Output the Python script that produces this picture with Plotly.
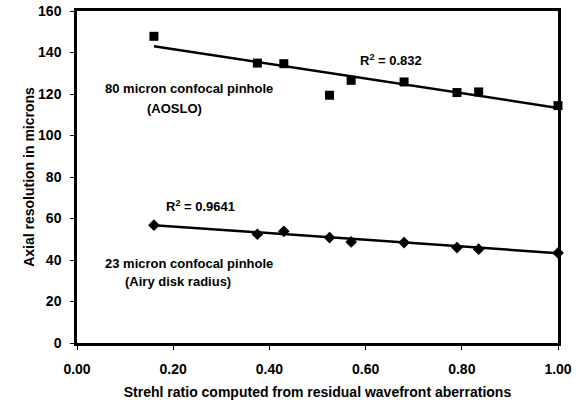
import plotly.graph_objects as go

strehl = [0.16, 0.375, 0.43, 0.525, 0.57, 0.68, 0.79, 0.835, 1.00]
res_80 = [147.8, 134.9, 134.6, 119.4, 126.6, 125.8, 120.7, 121.0, 114.4]
res_23 = [56.8, 52.4, 53.8, 50.8, 48.7, 48.4, 46.0, 45.2, 43.4]

trend_x = [0.16, 1.00]
trend_80 = [143.0, 113.3]
trend_23 = [56.8, 43.3]

FONT = "Liberation Sans"
TICKF = dict(family=FONT, size=14, color="black", weight="bold")
TITLEF = dict(family=FONT, size=14, color="black", weight="bold")
ANNF = dict(family=FONT, size=13, color="black", weight="bold")

fig = go.Figure()
fig.add_trace(go.Scatter(x=trend_x, y=trend_80, mode="lines",
                         line=dict(color="black", width=2.5), showlegend=False))
fig.add_trace(go.Scatter(x=trend_x, y=trend_23, mode="lines",
                         line=dict(color="black", width=2.5), showlegend=False))
fig.add_trace(go.Scatter(x=strehl, y=res_80, mode="markers",
                         marker=dict(symbol="square", size=9, color="black"),
                         showlegend=False, cliponaxis=False))
fig.add_trace(go.Scatter(x=strehl, y=res_23, mode="markers",
                         marker=dict(symbol="diamond", size=9, color="black"),
                         showlegend=False, cliponaxis=False))

annotations = [
    dict(text="R<sup>2</sup> = 0.832", x=0.652, y=136.3),
    dict(text="80 micron confocal pinhole", x=0.232, y=122.7),
    dict(text="(AOSLO)", x=0.203, y=113.2),
    dict(text="R<sup>2</sup> = 0.9641", x=0.257, y=66.2),
    dict(text="23 micron confocal pinhole", x=0.232, y=38.4),
    dict(text="(Airy disk radius)", x=0.211, y=29.7),
]
for a in annotations:
    fig.add_annotation(font=ANNF, showarrow=False, xref="x", yref="y", **a)

fig.update_layout(
    width=585, height=404,
    margin=dict(l=77, r=27, t=11, b=61),
    paper_bgcolor="white", plot_bgcolor="white",
    font=TICKF,
)
fig.update_xaxes(range=[0, 1], dtick=0.2, tick0=0, tickformat=".2f",
                 showline=True, linewidth=2.5, linecolor="black", mirror=True,
                 ticks="outside", ticklen=4, tickwidth=1, tickcolor="black",
                 showgrid=False, zeroline=False, automargin=False,
                 tickfont=TICKF, ticklabelstandoff=7,
                 title=dict(text="Strehl ratio computed from residual wavefront aberrations",
                            font=TITLEF, standoff=12))
fig.update_yaxes(range=[0, 160], dtick=20, tick0=0,
                 showline=True, linewidth=2.5, linecolor="black", mirror=True,
                 ticks="outside", ticklen=4, tickwidth=1, tickcolor="black",
                 showgrid=False, zeroline=False, automargin=False,
                 tickfont=TICKF, ticklabelstandoff=6,
                 title=dict(text="Axial resolution in microns", font=TITLEF, standoff=1))

fig.write_html("out.html")
